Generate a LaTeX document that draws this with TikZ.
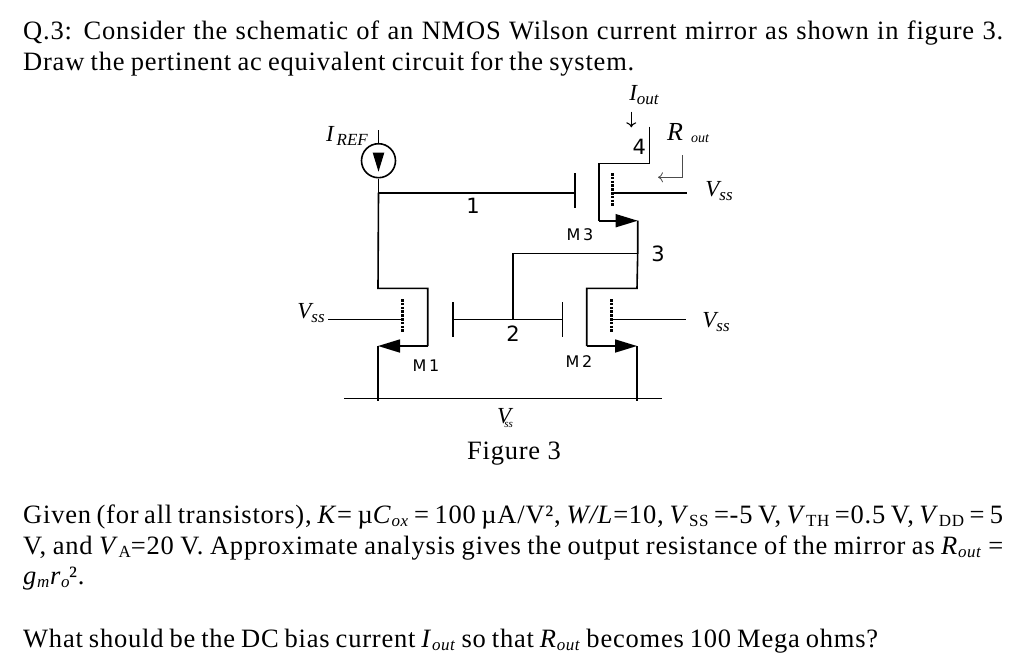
\documentclass[tikz,border=0pt]{standalone}
\usepackage{fontspec}
\setmainfont[LetterSpace=3]{Liberation Serif}
\newfontfamily\labelfont{DejaVu Sans}
\newfontfamily\mathsfont{Liberation Serif}
\usetikzlibrary{arrows.meta}
\newcommand{\subit}[2]{\textit{#1}\raisebox{-3pt}{\fontsize{17}{17}\selectfont\textit{#2}}}
\newcommand{\subup}[2]{\textit{#1}\raisebox{-3pt}{\fontsize{17}{17}\selectfont #2}}
\newcommand{\symsub}[2]{\textit{#1}\raisebox{-4pt}{\fontsize{17}{17}\selectfont\textit{#2}}}
\tikzset{wire/.style={line width=1.6pt},
        thinwire/.style={line width=0.8pt},
        mosarrow/.style={wire,-{Triangle[length=22pt,width=13pt]}},
        bulkbar/.style={line width=3.4pt,dash pattern=on 2.6pt off 1.2pt},
        bodytext/.style={anchor=base west,inner sep=0pt,font=\fontsize{26.5}{30}\selectfont},
        pinlabel/.style={inner sep=0pt,font=\labelfont\fontsize{21}{21}\selectfont},
        mosname/.style={inner sep=0pt,font=\labelfont\fontsize{16}{16}\selectfont},
        symlabel/.style={inner sep=0pt,font=\mathsfont\itshape\fontsize{23}{23}\selectfont},
        }
\begin{document}
\begin{tikzpicture}[x=1pt,y=-1pt]
    \useasboundingbox (0,0) rectangle (1022,662);

    % text of the question
    \node[bodytext] (line1) at (23,39) {\makebox[980pt][s]{Q.3: Consider the schematic of an NMOS Wilson current mirror as shown in figure 3.}};
    \node[bodytext] (line2) at (23,70) {\makebox[611pt][s]{Draw the pertinent ac equivalent circuit for the system.}};
    \node[bodytext] (line3) at (23,523) {\makebox[980pt][s]{Given (for all transistors), \textit{K}= µ\subit{C}{ox} = 100 µA/V², \textit{W/L}=10, \subup{V}{SS} =-5 V, \subup{V}{TH} =0.5 V, \subup{V}{DD} = 5}};
    \node[bodytext] (line4) at (23,554) {\makebox[980pt][s]{V, and \subup{V}{A}=20 V. Approximate analysis gives the output resistance of the mirror as \subit{R}{out} =}};
    \node[bodytext] (line5) at (23,584) {\subit{g}{m}\subit{r}{o}\kern-1pt².};
    \node[bodytext] (line6) at (23,647) {\makebox[855pt][s]{What should be the DC bias current \subit{I}{out} so that \subit{R}{out} becomes 100 Mega ohms?}};
    \node[bodytext,anchor=center] (figname) at (514,454) {Figure 3};

    % circuit points
    \coordinate (reftop) at (378.5,130);
    \coordinate (refgate) at (378.5,192.7);
    \coordinate (m1top) at (378,288.3);
    \coordinate (m1d) at (427.7,288.3);
    \coordinate (m1s) at (427.7,346);
    \coordinate (m1out) at (378,346);
    \coordinate (m1rail) at (378,401);
    \coordinate (m2top) at (637,288.3);
    \coordinate (m2d) at (586.7,288.3);
    \coordinate (m2s) at (586.7,346);
    \coordinate (m2out) at (637,346);
    \coordinate (m2rail) at (637,401);
    \coordinate (m3top) at (649.3,126.7);
    \coordinate (m3dr) at (649.3,163.3);
    \coordinate (m3d) at (599,163.3);
    \coordinate (m3s) at (599,220.7);
    \coordinate (m3out) at (637.7,220.7);
    \coordinate (fbright) at (637.7,253.3);
    \coordinate (fbleft) at (513,253.3);
    \coordinate (gatemid) at (513,319.3);

    % current source
    \node[draw,circle,line width=1.6pt,minimum size=34pt,inner sep=0pt] (iref) at (378.5,160.7) {};
    \fill (372.7,152.7) -- (384.3,152.7) -- (378.5,171.7) -- cycle;
    \draw[wire] (reftop) -- (iref.north);
    \draw[wire] (iref.south) -- (refgate);
    \draw[wire] (refgate) -- (m1top) -- (m1d) -- (m1s);
    \draw[mosarrow] (m1s) -- (m1out);
    \draw[wire] (m1out) -- (m1rail);

    % M3
    \coordinate (m3gate) at (575,192.7);
    \draw[wire] (refgate) -- (m3gate);
    \draw[wire] (575,173) -- (575,208);
    \draw[wire] (m3top) -- (m3dr) -- (m3d) -- (m3s);
    \draw[mosarrow] (m3s) -- (m3out);
    \draw[wire] (m3out) -- (fbright) -- (m2top) -- (m2d) -- (m2s);
    \draw[bulkbar] (612.3,173) -- (612.3,207);
    \coordinate (m3bulk) at (612.3,192.7);
    \coordinate (m3vss) at (686.7,192.7);
    \draw[wire] (m3bulk) -- (m3vss);

    % M2
    \draw[mosarrow] (m2s) -- (m2out);
    \draw[wire] (m2out) -- (m2rail);
    \draw[bulkbar] (611.7,299) -- (611.7,333);
    \coordinate (m2bulk) at (611.7,319.3);
    \coordinate (m2vss) at (686,319.3);
    \draw[wire] (m2bulk) -- (m2vss);

    % M1
    \draw[bulkbar] (402.7,299) -- (402.7,333);
    \coordinate (m1bulk) at (402.7,319.3);
    \coordinate (m1vss) at (328,319.3);
    \draw[wire] (m1vss) -- (m1bulk);

    % gates of M1 and M2
    \coordinate (m1gate) at (452.7,319.3);
    \coordinate (m2gate) at (562.3,319.3);
    \draw[wire] (452.7,302) -- (452.7,337);
    \draw[wire] (562.3,302) -- (562.3,337);
    \draw[wire] (m1gate) -- (m2gate);
    \draw[wire] (gatemid) -- (fbleft) -- (fbright);

    % bottom rail
    \coordinate (railleft) at (344,398.3);
    \coordinate (railright) at (661.7,398.3);
    \draw[wire] (railleft) -- (railright);

    % arrows of Iout and Rout
    \coordinate (ioutA) at (631.3,111.7);
    \coordinate (ioutB) at (631.3,127.3);
    \draw[thinwire,line width=1.1pt,-{To[length=5pt,width=10pt]}] (ioutA) -- (ioutB);
    \coordinate (routA) at (682.7,155);
    \coordinate (routB) at (682.7,177.3);
    \coordinate (routC) at (658,177.3);
    \draw[thinwire,draw=black!70,-{To[length=5pt,width=10pt]}] (routA) -- (routB) -- (routC);

    % labels
    \node[symlabel] (ioutlabel) at (644,95) {\symsub{I}{out}};
    \node[symlabel] (ireflabel) at (347,136) {\symsub{I}{\,REF}};
    \node[symlabel,font=\mathsfont\itshape\fontsize{26}{26}\selectfont] (routlabel) at (675,132) {R};
    \node[symlabel,font=\mathsfont\itshape\fontsize{14}{14}\selectfont] (routsub) at (700,139) {out};
    \node[symlabel] (vssA) at (719,191) {\symsub{V}{ss}};
    \node[symlabel] (vssB) at (716,322) {\symsub{V}{ss}};
    \node[symlabel] (vssC) at (311,313) {\symsub{V}{ss}};
    \node[symlabel] (vssD) at (505,418) {\textit{V}\kern-7pt\raisebox{-4pt}{\fontsize{11}{11}\selectfont\textit{ss}}};
    \node[pinlabel] (pinone) at (473,206) {1};
    \node[pinlabel] (pintwo) at (513,334) {2};
    \node[pinlabel] (pinthree) at (658,254) {3};
    \node[pinlabel] (pinfour) at (639.3,147) {4};
    \node[mosname] (mthree) at (580,235) {M\,3};
    \node[mosname] (mone) at (426,366) {M\,1};
    \node[mosname] (mtwo) at (579,362) {M\,2};
\end{tikzpicture}
\end{document}
